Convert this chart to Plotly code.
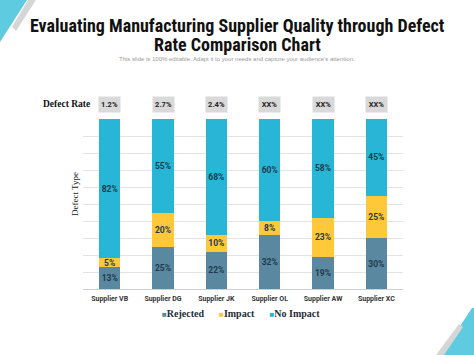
import plotly.graph_objects as go

suppliers = ["Supplier VB", "Supplier DG", "Supplier JK", "Supplier OL", "Supplier AW", "Supplier XC"]
rejected = [13, 25, 22, 32, 19, 30]
impact = [5, 20, 10, 8, 23, 25]
no_impact = [82, 55, 68, 60, 58, 45]
defect_rate = ["1.2%", "2.7%", "2.4%", "XX%", "XX%", "XX%"]

series_names = ["Rejected", "Impact", "No Impact"]
series_colors = ["#5A88A1", "#FDC83A", "#27B6D6"]
series_values = [rejected, impact, no_impact]

title_lines = ["Evaluating Manufacturing Supplier Quality through Defect", "Rate Comparison Chart"]
subtitle = "This slide is 100% editable. Adapt it to your needs and capture your audience's attention."

W, H = 474, 355
L, R, T, B = 83, 71, 119, 66
pw = W - L - R
ph = H - T - B

fig = go.Figure()
for name, color, vals in zip(series_names, series_colors, series_values):
    fig.add_trace(go.Bar(
        x=suppliers, y=vals, name=name,
        marker=dict(color=color, line=dict(width=0)),
        text=[f"{v}%" for v in vals],
        textposition="inside", insidetextanchor="middle", textangle=0,
        textfont=dict(family="Roboto, Arial, sans-serif", size=8.5, color="#1E3A4C", weight="bold"),
        width=0.4, showlegend=False,
    ))

def px_x(p):
    return (p - L) / pw

def px_y(p):
    return (H - B - p) / ph

annotations = []
for s, r in zip(suppliers, defect_rate):
    annotations.append(dict(
        x=s, xref="x", y=px_y(104.5), yref="paper", text=f"<b>{r}</b>", showarrow=False,
        bgcolor="#D9D9D9", width=21, height=15, borderpad=0,
        font=dict(family="Roboto, Arial, sans-serif", size=7.5, color="#222222"),
        xanchor="center", yanchor="middle",
    ))

annotations.append(dict(
    x=px_x(66), xref="paper", y=px_y(104), yref="paper",
    text="<b>Defect Rate</b>", showarrow=False, xanchor="center", yanchor="middle",
    font=dict(family="Liberation Serif, Times New Roman, serif", size=9.5, color="#111111"),
))
annotations.append(dict(
    x=px_x(75), xref="paper", y=px_y(194), yref="paper",
    text="Defect Type", showarrow=False, textangle=-90, xanchor="center", yanchor="middle",
    font=dict(family="Liberation Serif, Times New Roman, serif", size=9, color="#222222"),
))
for line, yc in zip(title_lines, [26, 44]):
    annotations.append(dict(
        x=px_x(237), xref="paper", y=px_y(yc), yref="paper",
        text=f"<b>{line}</b>", showarrow=False, xanchor="center", yanchor="middle",
        font=dict(family="Liberation Sans Narrow, Arial Narrow, Roboto Condensed, Liberation Sans, sans-serif",
                  size=18, color="#111111"),
    ))
annotations.append(dict(
    x=px_x(237), xref="paper", y=px_y(59), yref="paper",
    text=subtitle, showarrow=False, xanchor="center", yanchor="middle",
    font=dict(family="Liberation Sans, Arial, sans-serif", size=6, color="#9A9A9A"),
))

legend_text = "      ".join(
    f"<span style='color:{c};font-size:8px'>■</span><b>{n}</b>" for n, c in zip(series_names, series_colors)
)
annotations.append(dict(
    x=px_x(241), xref="paper", y=px_y(313), yref="paper",
    text=legend_text, showarrow=False, xanchor="center", yanchor="middle",
    font=dict(family="Liberation Serif, Times New Roman, serif", size=10, color="#1E2E3A"),
))

def ppath(points):
    pts = [((x - L) / pw, (H - B - y) / ph) for x, y in points]
    return "M " + " L ".join(f"{a:.4f} {b:.4f}" for a, b in pts) + " Z"

shapes = [
    dict(type="path", xref="paper", yref="paper", layer="above",
         path=ppath([(0, 0), (27, 0), (0, 42), (0, 0)]), fillcolor="#5FCBE0", line=dict(width=0)),
    dict(type="path", xref="paper", yref="paper", layer="above",
         path=ppath([(28, 0), (36, 0), (16, 31), (12, 27)]), fillcolor="#D6D6D6", line=dict(width=0)),
    dict(type="path", xref="paper", yref="paper", layer="above",
         path=ppath([(474, 308), (474, 355), (441, 355), (472, 308)]), fillcolor="#5FCBE0", line=dict(width=0)),
    dict(type="path", xref="paper", yref="paper", layer="above",
         path=ppath([(459, 324), (463, 327), (444, 355), (436, 355)]), fillcolor="#D6D6D6", line=dict(width=0)),
]

fig.update_layout(
    width=W, height=H, barmode="stack",
    margin=dict(l=L, r=R, t=T, b=B, autoexpand=False),
    paper_bgcolor="white", plot_bgcolor="white",
    xaxis=dict(
        showgrid=False, showline=True, linecolor="#CFCFCF", linewidth=1,
        tickfont=dict(family="Roboto, Arial, sans-serif", size=7, color="#333333", weight="bold"),
        ticks="outside", ticklen=3, tickcolor="rgba(0,0,0,0)", fixedrange=True,
    ),
    yaxis=dict(
        range=[0, 100], dtick=10, showgrid=True, gridcolor="#E3E3E3", gridwidth=1,
        showticklabels=False, zeroline=False, ticks="", fixedrange=True,
    ),
    annotations=annotations,
    shapes=shapes,
    uniformtext=dict(minsize=8.5, mode="show"),
    showlegend=False,
)

fig.write_html("out.html", config={"displayModeBar": False},
               post_script="document.body.style.margin='0';document.body.style.overflow='hidden';")
